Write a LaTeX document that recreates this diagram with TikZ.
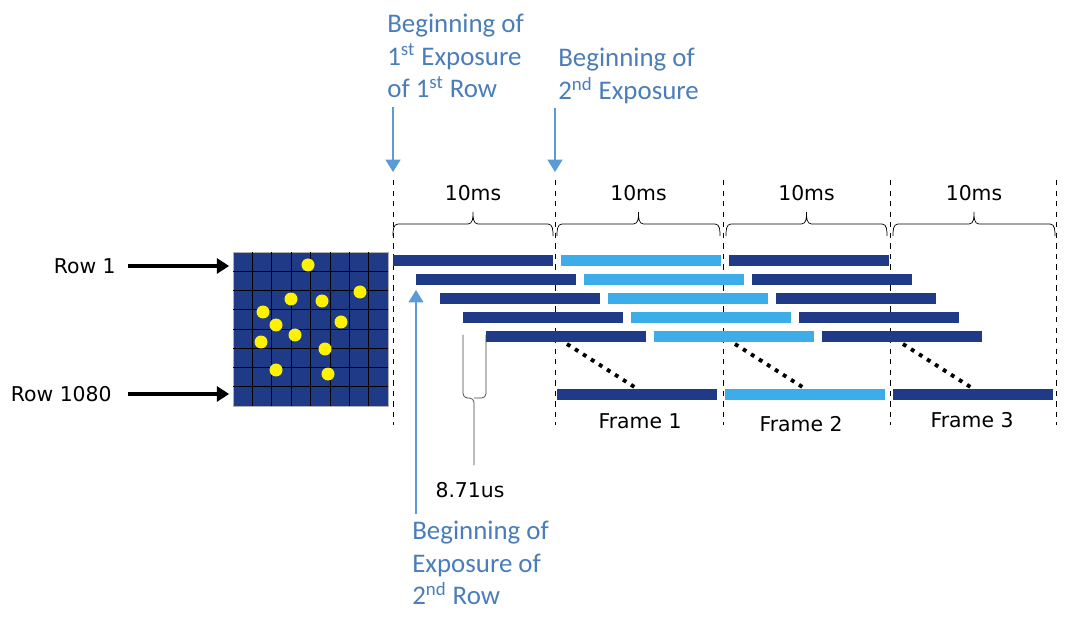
\documentclass[tikz,border=0pt]{standalone}
\usepackage{fontspec}
\setmainfont{DejaVu Sans}
\newfontfamily\notefont{Carlito}
\usetikzlibrary{arrows.meta}
\definecolor{rowdark}{HTML}{1F3B87}
\definecolor{rowlight}{HTML}{3DADE9}
\definecolor{notetext}{HTML}{4A7DBA}
\definecolor{pointblue}{HTML}{5B9BD5}
\begin{document}
\begin{tikzpicture}[x=0.02cm, y=-0.02cm,
    note/.style={font=\notefont\fontsize{15.3}{18.4}\selectfont, text=notetext, align=left, inner sep=0pt},
    tlabel/.style={font=\fontsize{11.6}{14}\selectfont, inner sep=0pt},
    rowarrow/.style={-{Triangle[length=7pt,width=8.5pt]}, line width=2pt},
    pointer/.style={color=pointblue, line width=0.7pt, -{Triangle[length=7pt,width=8.5pt]}},
    sepline/.style={dashed, thin},
    framebar/.style={minimum width=3.2cm, minimum height=0.22cm, inner sep=0pt},
    dotline/.style={line width=2.2pt, dash pattern=on 2.2pt off 3.2pt}]
    \useasboundingbox (0,0) rectangle (1084,634);

    \node (first) [note, anchor=south west] at (387,98) {Beginning of\\1\textsuperscript{st} Exposure\\of 1\textsuperscript{st} Row};
    \node (second) [note, anchor=south west] at (558,104) {Beginning of\\2\textsuperscript{nd} Exposure};
    \node (third) [note, anchor=south west] at (412,605) {Beginning of\\Exposure of\\2\textsuperscript{nd} Row};
    \coordinate (firsttip) at (393,172);
    \coordinate (secondtip) at (555,172);
    \coordinate (thirdtip) at (416,290);
    \draw[pointer, shorten <=5pt] (first.south -| firsttip) -- (firsttip);
    \draw[pointer, shorten <=2pt] (second.south -| secondtip) -- (secondtip);
    \draw[pointer, shorten <=4pt] (third.north -| thirdtip) -- (thirdtip);

    \node (sensor) [draw=gray!60, fill=rowdark, minimum width=3.1cm, minimum height=3.08cm, inner sep=0pt] at (310.5,329) {};
    \foreach \i in {1,...,7} {
        \draw ({233+19.375*\i},252) -- ({233+19.375*\i},406);
        \draw (233,{252+19.25*\i}) -- (388,{252+19.25*\i});
    }
    \foreach \x/\y in {308/265, 360/292, 291/299, 322/301, 263/312, 341/322, 276/325, 295/335, 261/342, 325/349, 276/370, 328/374}
        \fill[yellow] (\x,\y) circle[radius=0.13cm];

    \node (row1) [tlabel, anchor=east] at (116,266) {Row 1};
    \node (rowlast) [tlabel, anchor=east] at (112,394) {Row 1080};
    \draw[rowarrow, shorten <=7pt, shorten >=2pt] (row1) -- (row1 -| sensor.west);
    \draw[rowarrow, shorten <=9pt, shorten >=2pt] (rowlast) -- (rowlast -| sensor.west);

    \foreach \x in {393,555,723,890,1056}
        \draw[sepline] (\x,180) -- (\x,425);

    \foreach \a/\b [count=\n] in {393/553, 557/720, 726/887, 893/1055} {
        \pgfmathsetmacro\m{(\a+\b)/2}
        \draw (\a,236) to[out=90,in=180] ({\a+5},224) -- ({\m-5},224) to[out=0,in=-90] (\m,212)
            to[out=-90,in=180] ({\m+5},224) -- ({\b-5},224) to[out=0,in=90] (\b,236);
        \node (span\n) [tlabel] at (\m,193) {10ms};
    }

    \foreach \r in {0,...,4}
        \foreach \k/\c in {0/rowdark,1/rowlight,2/rowdark}
            \fill[\c] ({393+23.3*\r+168*\k},{255+19*\r}) rectangle +(160,11);

    \foreach \k/\c [count=\n] in {0/rowdark,1/rowlight,2/rowdark} {
        \node (frame\n) [framebar, fill=\c] at ({637+168*\k},394.5) {};
        \coordinate (drop\n) at ({567+168*\k},344);
        \draw[dotline] (drop\n) -- (frame\n.north);
    }
    \node (name1) [tlabel] at (640,421) {Frame 1};
    \node (name2) [tlabel] at (801,424) {Frame 2};
    \node (name3) [tlabel] at (972,420) {Frame 3};

    \draw[black!75, rounded corners=2.5pt] (463,335) -- (463,398) -- (474,398) -- (474,465);
    \draw[black!75, rounded corners=2.5pt] (486,335) -- (486,398) -- (474,398);
    \node (delay) [tlabel] at (470,490) {8.71us};
\end{tikzpicture}
\end{document}
